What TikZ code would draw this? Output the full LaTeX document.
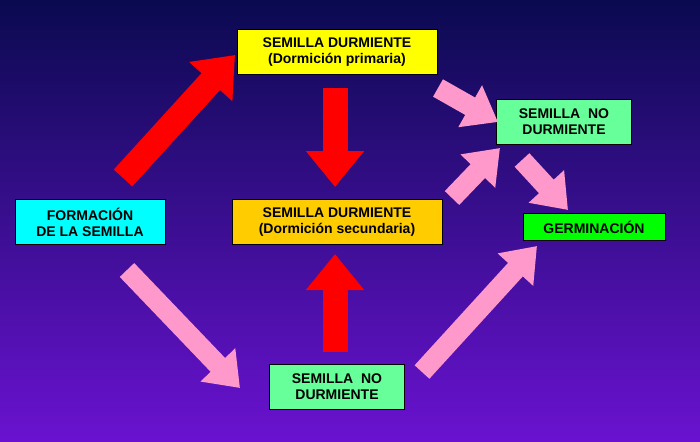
\documentclass[tikz,border=0pt]{standalone}
\usepackage{fontspec}
\setmainfont{Liberation Sans}
\usetikzlibrary{arrows.meta}
\definecolor{bgtop}{HTML}{0A0A50}
\definecolor{bgbot}{HTML}{6A12D0}
\definecolor{redA}{HTML}{FF0000}
\definecolor{pinkA}{HTML}{FF99CC}
\definecolor{ylw}{HTML}{FFFF00}
\definecolor{org}{HTML}{FFCC00}
\definecolor{cyn}{HTML}{00FFFF}
\definecolor{lgr}{HTML}{66FF99}
\definecolor{grn}{HTML}{00FF00}
\begin{document}
\begin{tikzpicture}[x=1pt,y=-1pt,
  box/.style={draw=black,line width=0.8pt,align=center,inner sep=0pt,font=\fontsize{14}{16}\selectfont\bfseries},
  redarr/.style={draw=redA,line width=25pt,-{Triangle[length=36pt,width=56pt]},fill=redA},
  pinkarr/.style={draw=pinkA,line width=20pt,-{Triangle[length=32pt,width=46pt]},fill=pinkA}]
\shade[top color=bgtop,bottom color=bgbot] (0,0) rectangle (700,441);
\useasboundingbox (0,0) rectangle (700,441);
\node[box,fill=ylw,minimum width=200pt,minimum height=45pt] (top) at (337,52) {SEMILLA DURMIENTE\\(Dormición primaria)};
\node[box,fill=lgr,minimum width=135pt,minimum height=45pt] (nd1) at (564,122) {SEMILLA\ \ NO\\DURMIENTE};
\node[box,fill=cyn,minimum width=150pt,minimum height=45pt] (form) at (90,222) {FORMACIÓN\\DE LA SEMILLA};
\node[box,fill=org,minimum width=210pt,minimum height=45pt] (mid) at (337,222) {SEMILLA DURMIENTE\\(Dormición secundaria)};
\node[box,fill=grn,minimum width=142pt,minimum height=27pt] (germ) at (594,227) {GERMINACIÓN};
\node[box,fill=lgr,minimum width=135pt,minimum height=45pt] (nd2) at (337,387) {SEMILLA\ \ NO\\DURMIENTE};
\coordinate (a1s) at (123,178); \coordinate (a1e) at (235,55);
\coordinate (a2s) at (335,88); \coordinate (a2e) at (335,187);
\coordinate (a3s) at (335,352); \coordinate (a3e) at (335,254);
\coordinate (p1s) at (438,88); \coordinate (p1e) at (498,122);
\coordinate (p2s) at (452,198); \coordinate (p2e) at (500,148);
\coordinate (p3s) at (522,160); \coordinate (p3e) at (568,210);
\coordinate (p4s) at (127,270); \coordinate (p4e) at (240,388);
\coordinate (p5s) at (422,372); \coordinate (p5e) at (537,246);
\draw[redarr] (a1s) -- (a1e);
\draw[redarr] (a2s) -- (a2e);
\draw[redarr] (a3s) -- (a3e);
\draw[pinkarr] (p1s) -- (p1e);
\draw[pinkarr] (p2s) -- (p2e);
\draw[pinkarr] (p3s) -- (p3e);
\draw[pinkarr] (p4s) -- (p4e);
\draw[pinkarr] (p5s) -- (p5e);
\end{tikzpicture}
\end{document}
